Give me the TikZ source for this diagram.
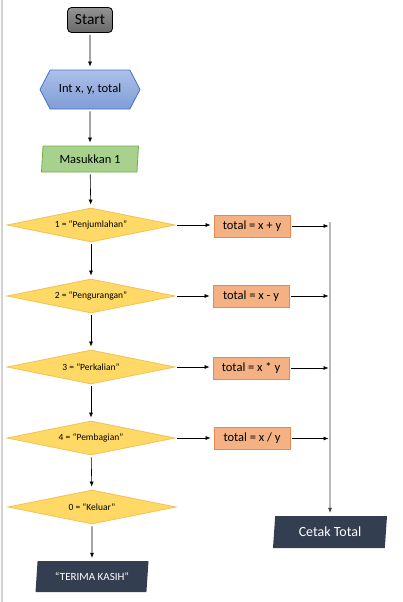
\documentclass[tikz,border=0pt]{standalone}
\usepackage{fontspec}
\setmainfont{Carlito}
\usetikzlibrary{arrows.meta,shapes.geometric,shapes.symbols}

\begin{document}
\begin{tikzpicture}[x=1pt, y=-1pt,
  % ---- colours -------------------------------------------------------
  /utils/exec={%
    \definecolor{flgrey}  {RGB}{128,128,128}%
    \definecolor{flgreyd} {RGB}{105,105,105}%
    \definecolor{flbluet} {RGB}{172,192,232}%
    \definecolor{flblueb} {RGB}{128,157,215}%
    \definecolor{flblued} {RGB}{ 68,114,196}%
    \definecolor{flgreen} {RGB}{169,209,142}%
    \definecolor{flgreend}{RGB}{112,173, 71}%
    \definecolor{flyellow}{RGB}{255,217,102}%
    \definecolor{flyelld} {RGB}{244,192, 80}%
    \definecolor{flsalmon}{RGB}{244,177,131}%
    \definecolor{flsalmd} {RGB}{233,135, 80}%
    \definecolor{flnavy}  {RGB}{ 51, 63, 80}%
    \definecolor{flline}  {RGB}{ 60, 60, 60}%
  },
  % ---- one style per kind of box --------------------------------------
  mulai/.style={rounded corners=4pt, draw=black, line width=0.8pt,
    top color=flgrey!85, bottom color=flgreyd, minimum width=45pt,
    minimum height=25pt, inner sep=0pt, font=\fontsize{15.5}{18}\selectfont},
  deklarasi/.style={signal, signal to=west and east, signal pointer angle=125,
    draw=flblued, line width=0.8pt, top color=flbluet, bottom color=flblueb,
    minimum width=100pt, minimum height=39pt, inner sep=0pt,
    font=\fontsize{12.5}{14}\selectfont},
  masuk/.style={trapezium, trapezium stretches body, trapezium left angle=#1,
    trapezium right angle=180-#1, inner sep=0pt},
  pilih/.style={diamond, aspect=6, draw=flyelld, line width=0.8pt,
    fill=flyellow, minimum width=168pt, minimum height=34pt, inner sep=0pt,
    font=\fontsize{9.5}{11}\selectfont},
  hitung/.style={draw=flsalmd, line width=0.8pt, fill=flsalmon,
    minimum width=76pt, minimum height=22pt, inner sep=0pt,
    font=\fontsize{12.5}{14}\selectfont},
  keluaran/.style={masuk=#1, fill=flnavy, text=white},
  flow/.style={draw=black, line width=0.6pt, -{Latex[length=5pt,width=4pt]},
    shorten <=2pt, shorten >=3pt},
]
\useasboundingbox (0,0) rectangle (403,602);
\draw[gray!35, line width=1.5pt] (2,0) -- (2,602);

% =====================================================================
%  MAIN COLUMN
% =====================================================================
\node[mulai] (start) at (90,20) {Start};
\node[deklarasi] (decl) at (90,89.5) {Int x, y, total};
\node[masuk=80, draw=flgreend, line width=0.8pt, fill=flgreen,
      minimum width=97pt, minimum height=26pt,
      font=\fontsize{12.5}{14}\selectfont] (input) at (90,159) {Masukkan 1};

\node[pilih] (pilih1) at (91,225) {1 = “Penjumlahan”};
\node[pilih] (pilih2) at (91,296) {2 = “Pengurangan”};
\node[pilih] (pilih3) at (91,367) {3 = “Perkalian”};
\node[pilih] (pilih4) at (91,438) {4 = “Pembagian”};
\node[pilih] (pilih0) at (92,507) {0 = “Keluar”};

\node[keluaran=75.5, minimum width=113pt, minimum height=31pt,
      font=\fontsize{11}{13}\selectfont] (pamit) at (92,576.5) {“TERIMA KASIH”};

% =====================================================================
%  OPERATIONS
% =====================================================================
\node[hitung] (hitung1) at (252,226) {total = x + y};
\node[hitung] (hitung2) at (251,296) {total = x - y};
\node[hitung] (hitung3) at (251,368) {total = x * y};
\node[hitung] (hitung4) at (252,438.5) {total = x / y};

\node[keluaran=77.5, minimum width=114pt, minimum height=32pt,
      font=\fontsize{14}{16}\selectfont] (cetak) at (330,532) {Cetak Total};
\coordinate (atas) at (330,222);

% =====================================================================
%  FLOW
% =====================================================================
\draw[flow] (start) -- (decl);
\draw[flow] (decl)  -- (input);
\draw[flow] (input) -- (pilih1);
\draw[flow] (pilih1) -- (pilih2);
\draw[flow] (pilih2) -- (pilih3);
\draw[flow] (pilih3) -- (pilih4);
\draw[flow] (pilih4) -- (pilih0);
\draw[flow] (pilih0) -- (pamit);

\draw[flow] (pilih1.east) -- (hitung1.west |- pilih1.east);
\draw[flow] (pilih2.east) -- (hitung2.west |- pilih2.east);
\draw[flow] (pilih3.east) -- (hitung3.west |- pilih3.east);
\draw[flow] (pilih4.east) -- (hitung4.west |- pilih4.east);

\draw[flow, shorten >=1.5pt] (hitung1.east) -- (hitung1.east -| atas);
\draw[flow, shorten >=1.5pt] (hitung2.east) -- (hitung2.east -| atas);
\draw[flow, shorten >=1.5pt] (hitung3.east) -- (hitung3.east -| atas);
\draw[flow, shorten >=1.5pt] (hitung4.east) -- (hitung4.east -| atas);

\draw[flow, draw=flline, shorten <=0pt] (atas) -- (cetak.north);

\end{tikzpicture}
\end{document}
